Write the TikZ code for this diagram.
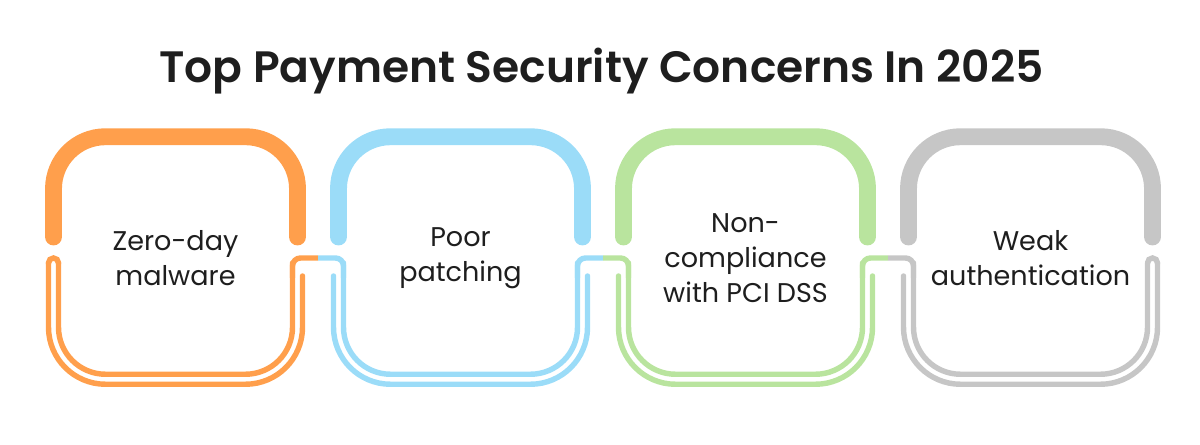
\documentclass[tikz,border=0pt]{standalone}
\usepackage{fontspec}
\setmainfont{Poppins}
\newfontfamily\headfont{Poppins SemiBold}
\usepackage{tikz}
\usetikzlibrary{positioning,calc}
\definecolor{ink}{HTML}{1E1E1E}
\definecolor{orng}{HTML}{FF9F4C}
\definecolor{sky}{HTML}{9BDCF8}
\definecolor{leaf}{HTML}{B9E49E}
\definecolor{stone}{HTML}{C6C6C6}
\tikzset{
  card/.style={minimum width=48.8mm,minimum height=48.5mm,inner sep=0pt,outer sep=0pt,
    align=center,font=\fontsize{15.4}{20}\selectfont,text=ink},
  ttl/.style={font=\fontsize{25}{30}\selectfont\headfont,text=ink,anchor=base},
  arch/.style={line width=9.6pt,line cap=round,rounded corners=10.4mm},
  rail/.style={line width=3.1pt,line cap=round,rounded corners=9.4mm},
  railo/.style={line width=3.1pt,line cap=round,rounded corners=11.4mm},
  link/.style={line width=3.1pt,line cap=butt,rounded corners=1.6mm},
  node distance=8.2mm
}
\begin{document}
\begin{tikzpicture}
  \useasboundingbox (0,0) rectangle (24,8.9);
  \node[ttl] (head) at (12.03,7.24) {Top Payment Security Concerns In 2025};
  \node[card] (c1) at (3.51,3.74) {Zero-day\\malware};
  \node[card,right=of c1] (c2) {Poor\\patching};
  \node[card,right=of c2] (c3) {Non-\\compliance\\with PCI DSS};
  \node[card,right=of c3] (c4) {Weak\\authentication};
  % thick tops and double rails below
  \foreach \n/\col/\yl/\yr in {c1/orng/-1/-3.6,c2/sky/-3.6/-3.6,c3/leaf/-3.6/-3.6,c4/stone/-3.6/-1}{
    \draw[arch,\col] ([yshift=4.2mm]\n.west) |- (\n.north) -| ([yshift=4.2mm]\n.east);
    \draw[rail,\col] ([xshift=1mm,yshift=-1mm]\n.west) |- ([yshift=1mm]\n.south)
      -| ([xshift=-1mm,yshift=-1mm]\n.east);
    \draw[railo,\col] ([xshift=-1mm,yshift=\yl mm]\n.west) |- ([yshift=-1mm]\n.south)
      -| ([xshift=1mm,yshift=\yr mm]\n.east);
  }
  % closed ends
  \draw[rail,orng] ([xshift=-1mm,yshift=-1mm]c1.west) arc[start angle=180,end angle=0,radius=1mm];
  \draw[rail,stone] ([xshift=-1mm,yshift=-1mm]c4.east) arc[start angle=180,end angle=0,radius=1mm];
  % links between cards
  \foreach \a/\b/\ca/\cb in {c1/c2/orng/sky,c2/c3/sky/leaf,c3/c4/leaf/stone}{
    \coordinate (m\a) at ($(\a.east)!.5!(\b.west)$);
    \draw[link,\ca] ([xshift=-1mm,yshift=-4mm]\a.east) |- (m\a);
    \draw[link,\cb] (m\a) -| ([xshift=1mm,yshift=-4mm]\b.west);
  }
\end{tikzpicture}
\end{document}
